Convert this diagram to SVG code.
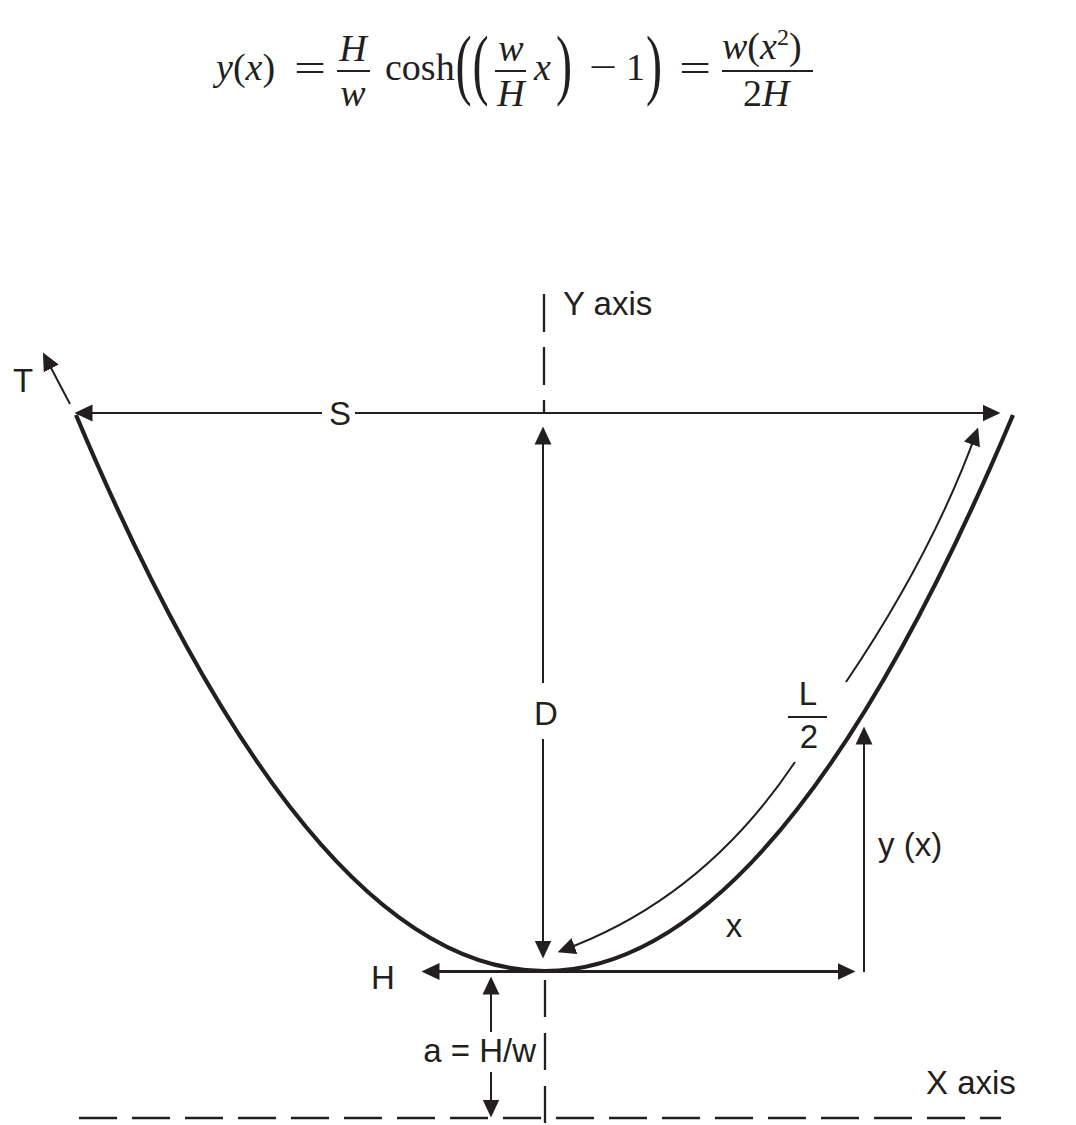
<svg xmlns="http://www.w3.org/2000/svg" width="1076" height="1125" viewBox="0 0 1076 1125">
<style>
.ln{stroke:#231f20;fill:none;stroke-width:2}
.ln3{stroke:#231f20;fill:none;stroke-width:3}
.dash{stroke:#231f20;fill:none;stroke-width:2.3}
.lbl{font-family:"Liberation Sans",Arial,sans-serif;font-size:33px;fill:#231f20}
.m{font-family:"Liberation Serif","Times New Roman",serif;font-size:38px;fill:#231f20}
.big{font-size:78px}
.i{font-style:italic}
</style>
<defs>
<marker id="ae" markerUnits="userSpaceOnUse" markerWidth="18" markerHeight="18" viewBox="0 0 16 16" refX="12" refY="8" orient="auto">
<path d="M0,0.5 L16,8 L0,15.5 z" fill="#231f20"/>
</marker>
<marker id="as" markerUnits="userSpaceOnUse" markerWidth="18" markerHeight="18" viewBox="0 0 16 16" refX="12" refY="8" orient="auto-start-reverse">
<path d="M0,0.5 L16,8 L0,15.5 z" fill="#231f20"/>
</marker>
</defs>
<rect width="1076" height="1125" fill="#ffffff"/>

<g id="formula">
<text class="m" x="216" y="80"><tspan class="i">y</tspan>(<tspan class="i">x</tspan>)</text>
<text class="m" x="310" y="81" text-anchor="middle" textLength="32" lengthAdjust="spacingAndGlyphs">=</text>
<text class="m i" x="353" y="61" text-anchor="middle">H</text>
<line class="ln" x1="337" y1="71" x2="370" y2="71" stroke-width="1.6"/>
<text class="m i" x="353" y="106" text-anchor="middle">w</text>
<text class="m" x="385" y="80">cosh</text>
<text class="m big" transform="translate(455.5,89.5) scale(0.62,1)">(</text>
<text class="m big" transform="translate(472.5,89.5) scale(0.62,1)">(</text>
<text class="m i" x="511" y="61" text-anchor="middle">w</text>
<line class="ln" x1="495" y1="71" x2="526" y2="71" stroke-width="1.6"/>
<text class="m i" x="511" y="106" text-anchor="middle">H</text>
<text class="m i" x="534" y="80">x</text>
<text class="m big" transform="translate(556,89.5) scale(0.62,1)">)</text>
<text class="m" x="603" y="80" text-anchor="middle" textLength="28" lengthAdjust="spacingAndGlyphs">−</text>
<text class="m" x="626" y="80">1</text>
<text class="m big" transform="translate(646,89.5) scale(0.62,1)">)</text>
<text class="m" x="695" y="81" text-anchor="middle" textLength="32" lengthAdjust="spacingAndGlyphs">=</text>
<text class="m" x="722" y="59"><tspan class="i">w</tspan>(<tspan class="i">x</tspan><tspan font-size="24" dy="-14">2</tspan><tspan dy="14">)</tspan></text>
<line class="ln" x1="722" y1="71" x2="813" y2="71" stroke-width="1.6"/>
<text class="m" x="743" y="106">2<tspan class="i">H</tspan></text>
</g>

<g id="axes">
<line class="dash" x1="544" y1="294" x2="544" y2="412" stroke-dasharray="38 15" stroke-width="2.5"/>
<line class="dash" x1="545" y1="980" x2="545" y2="1125" stroke-dasharray="37 16" stroke-width="2.6"/>
<line class="dash" x1="79" y1="1118" x2="1001" y2="1118" stroke-dasharray="38 15"/>
<text class="lbl" x="563" y="315">Y axis</text>
<text class="lbl" x="926" y="1094">X axis</text>
</g>

<g id="cable">
<path d="M76,415 Q544.5,1527 1013,415" fill="none" stroke="#231f20" stroke-width="4.2"/>
</g>

<g id="connectors">
<line class="ln" x1="70" y1="404" x2="45" y2="356.5" marker-end="url(#ae)"/>
<line class="ln" x1="79" y1="413" x2="322" y2="413" marker-start="url(#as)"/>
<line class="ln" x1="355" y1="413" x2="996" y2="413" marker-end="url(#ae)"/>
<line class="ln" x1="543" y1="431" x2="543" y2="683" stroke-width="2.4" marker-start="url(#as)"/>
<line class="ln" x1="543" y1="739" x2="543" y2="954" stroke-width="2.4" marker-end="url(#ae)"/>
<line class="ln3" x1="426" y1="971.5" x2="851" y2="971.5" marker-start="url(#as)" marker-end="url(#ae)"/>
<line class="ln" x1="864" y1="972" x2="864" y2="731" marker-end="url(#ae)"/>
<line class="ln" x1="491" y1="981" x2="491" y2="1032" marker-start="url(#as)"/>
<line class="ln" x1="491" y1="1072" x2="491" y2="1113" marker-end="url(#ae)"/>
<path class="ln" d="M846,682 Q932,555 976.6,431.8" marker-end="url(#ae)"/>
<path class="ln" d="M795,762 Q703.5,899 561.8,950.6" marker-end="url(#ae)"/>
</g>

<g id="labels">
<text class="lbl" x="23" y="392" text-anchor="middle">T</text>
<text class="lbl" x="340" y="425" text-anchor="middle">S</text>
<text class="lbl" x="546" y="725" text-anchor="middle">D</text>
<text class="lbl" x="808" y="705" text-anchor="middle">L</text>
<line class="ln" x1="788" y1="717" x2="827" y2="717"/>
<text class="lbl" x="809" y="748" text-anchor="middle">2</text>
<text class="lbl" x="878" y="856">y (x)</text>
<text class="lbl" x="734" y="937" text-anchor="middle">x</text>
<text class="lbl" x="383" y="989" text-anchor="middle">H</text>
<text class="lbl" x="536" y="1062" text-anchor="end">a = H/w</text>
</g>
</svg>
